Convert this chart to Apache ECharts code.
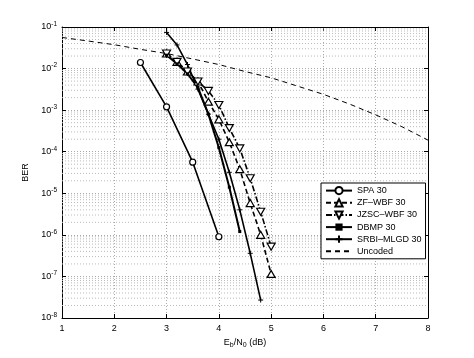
<!DOCTYPE html>
<html><head><meta charset="utf-8">
<script src="https://cdn.jsdelivr.net/npm/echarts@6/dist/echarts.min.js"></script>
<style>html,body{margin:0;padding:0;background:#fff}#c{width:474px;height:358px}</style>
</head><body><div id="c"></div>
<script>
const xTicks = [1, 2, 3, 4, 5, 6, 7, 8];
const yDecades = [-8, -7, -6, -5, -4, -3, -2, -1];

const spaX = [2.5, 3.0, 3.5, 4.0];
const spaY = [1.4e-2, 1.2e-3, 5.6e-5, 9e-7];

const wbfX = [3.0, 3.2, 3.4, 3.6, 3.8, 4.0, 4.2, 4.4, 4.6, 4.8, 5.0];
const zfY = [2.3e-2, 1.45e-2, 8.5e-3, 4.9e-3, 1.6e-3, 6.0e-4, 1.7e-4, 3.8e-5, 5.8e-6, 1.0e-6, 1.15e-7];
const jzscY = [2.3e-2, 1.45e-2, 8.5e-3, 4.9e-3, 2.9e-3, 1.33e-3, 3.7e-4, 1.2e-4, 2.3e-5, 3.6e-6, 5.2e-7];

const dbmpX = [3.0, 3.2, 3.4, 3.6, 3.8, 4.0, 4.2, 4.4];
const dbmpY = [2.1e-2, 1.3e-2, 7.5e-3, 3.5e-3, 8.0e-4, 1.25e-4, 1.4e-5, 1.2e-6];

const srbiX = [3.0, 3.2, 3.4, 3.6, 3.8, 4.0, 4.2, 4.4, 4.6, 4.8];
const srbiY = [7.4e-2, 3.7e-2, 1.25e-2, 3.2e-3, 8.0e-4, 2.0e-4, 3.2e-5, 4.0e-6, 3.6e-7, 2.7e-8];

const uncX = [1, 1.5, 2, 2.5, 3, 3.5, 4, 4.5, 5, 5.5, 6, 6.5, 7, 7.5, 8];
const uncY = [5.6e-2, 4.6e-2, 3.75e-2, 2.9e-2, 2.3e-2, 1.7e-2, 1.25e-2, 8.5e-3, 6.0e-3, 3.8e-3, 2.4e-3, 1.4e-3, 7.7e-4, 4.0e-4, 1.9e-4];

const seriesNames = ['SPA 30', 'ZF\u2013WBF 30', 'JZSC\u2013WBF 30', 'DBMP 30', 'SRBI\u2013MLGD 30', 'Uncoded'];

const zip = (xs, ys) => xs.map((x, i) => [x, ys[i]]);
// minor log grid lines (2..9 x 10^k), drawn as horizontal segments through the axes
const minorData = [];
yDecades.forEach(k => {
  if (k < -1) for (let m = 2; m <= 9; m++) {
    const v = m * Math.pow(10, k);
    minorData.push([xTicks[0], v], [xTicks[xTicks.length - 1], v], '-');
  }
});

const FONT = 'Liberation Sans';
const hollow = { color: '#fff', borderColor: '#000', borderWidth: 1.2 };
const triUp = 'path://M5,0 L10,9 L0,9 Z';
const triDown = 'path://M0,0 L10,0 L5,9 Z';
const plus = 'path://M5,0 L5,10 M0,5 L10,5';

const chart = echarts.init(document.getElementById('c'), null, { renderer: 'canvas' });
chart.setOption({
  backgroundColor: '#fff',
  animation: false,
  textStyle: { fontFamily: FONT },
  grid: { left: 62, right: 46, top: 27, bottom: 40, containLabel: false },
  legend: {
    orient: 'vertical', left: 321, top: 183,
    data: seriesNames.slice(0, 5).concat([{ name: seriesNames[5], itemStyle: { color: 'rgba(0,0,0,0)', borderWidth: 0, opacity: 0 } }]),
    backgroundColor: '#fff', borderColor: '#000', borderWidth: 1,
    padding: [3, 4, 3, 4], itemGap: 3, itemWidth: 26, itemHeight: 9,
    textStyle: { fontFamily: FONT, fontSize: 9, color: '#000' }
  },
  xAxis: [{
    type: 'value', min: 1, max: 8, interval: 1,
    name: '{n|E}{s|b}{n|/N}{s|0}{n| (dB)}', nameLocation: 'middle', nameGap: 13,
    nameTextStyle: { rich: { n: { fontFamily: FONT, fontSize: 9, color: '#000' }, s: { fontFamily: FONT, fontSize: 7, color: '#000', padding: [6, 0, 0, 0] } } },
    axisLine: { onZero: false, lineStyle: { color: '#000', width: 1 } },
    axisTick: { inside: true, length: 4, lineStyle: { color: '#000' } },
    axisLabel: { fontFamily: FONT, fontSize: 9, color: '#000', margin: 6 },
    splitLine: { show: true, lineStyle: { color: '#aaa', type: [1, 2], width: 1 } }
  }, {
    type: 'value', min: 1, max: 8, interval: 1, position: 'top',
    axisLine: { onZero: false, lineStyle: { color: '#000', width: 1 } },
    axisTick: { inside: true, length: 4, lineStyle: { color: '#000' } },
    axisLabel: { show: false }, splitLine: { show: false }
  }],
  yAxis: [{
    type: 'log', logBase: 10, min: 1e-8, max: 1e-1,
    name: 'BER', nameLocation: 'middle', nameGap: 17, nameRotate: 90,
    nameTextStyle: { fontFamily: FONT, fontSize: 9, color: '#000' },
    axisLine: { onZero: false, lineStyle: { color: '#000', width: 1 } },
    axisTick: { inside: true, length: 4, lineStyle: { color: '#000' } },
    axisLabel: {
      margin: 5,
      formatter: v => '{b|10}{e|' + Math.round(Math.log10(v)) + '}',
      rich: { b: { fontFamily: FONT, fontSize: 9, color: '#000' }, e: { fontFamily: FONT, fontSize: 6.5, color: '#000', padding: [0, 0, 6, 0] } }
    },
    splitLine: { show: true, lineStyle: { color: '#aaa', type: [1, 2], width: 1 } }
  }, {
    type: 'log', logBase: 10, min: 1e-8, max: 1e-1, position: 'right',
    axisLine: { onZero: false, lineStyle: { color: '#000', width: 1 } },
    axisTick: { inside: true, length: 4, lineStyle: { color: '#000' } },
    axisLabel: { show: false }, splitLine: { show: false }
  }],
  series: [
    {
      type: 'line', name: '_minorgrid', data: minorData, silent: true, z: 0,
      symbol: 'none', connectNulls: false,
      lineStyle: { color: '#bbb', type: [1, 2], width: 1 }
    },
    {
      type: 'line', name: seriesNames[0], data: zip(spaX, spaY),
      symbol: 'circle', symbolSize: 6, showAllSymbol: true,
      lineStyle: { color: '#000', width: 1.6 }, itemStyle: hollow, z: 5
    },
    {
      type: 'line', name: seriesNames[1], data: zip(wbfX, zfY),
      symbol: triUp, symbolSize: [8, 7], showAllSymbol: true,
      lineStyle: { color: '#000', width: 1.6, type: [5, 3] }, itemStyle: hollow, z: 5
    },
    {
      type: 'line', name: seriesNames[2], data: zip(wbfX, jzscY),
      symbol: triDown, symbolSize: [8, 7], showAllSymbol: true,
      lineStyle: { color: '#000', width: 1.6, type: [6, 2, 1.5, 2] }, itemStyle: hollow, z: 5
    },
    {
      type: 'line', name: seriesNames[3], data: zip(dbmpX, dbmpY),
      symbol: 'rect', symbolSize: 3, showAllSymbol: true,
      lineStyle: { color: '#000', width: 2 }, itemStyle: { color: '#000' }, z: 5
    },
    {
      type: 'line', name: seriesNames[4], data: zip(srbiX, srbiY),
      symbol: plus, symbolSize: 5, showAllSymbol: true,
      lineStyle: { color: '#000', width: 1.6 }, itemStyle: { color: '#000', borderColor: '#000', borderWidth: 1 }, z: 5
    },
    {
      type: 'line', name: seriesNames[5], data: zip(uncX, uncY),
      symbol: 'none',
      lineStyle: { color: '#000', width: 1, type: [5, 4] }, itemStyle: { color: '#000' }, z: 4
    }
  ]
});
</script>
</body></html>
